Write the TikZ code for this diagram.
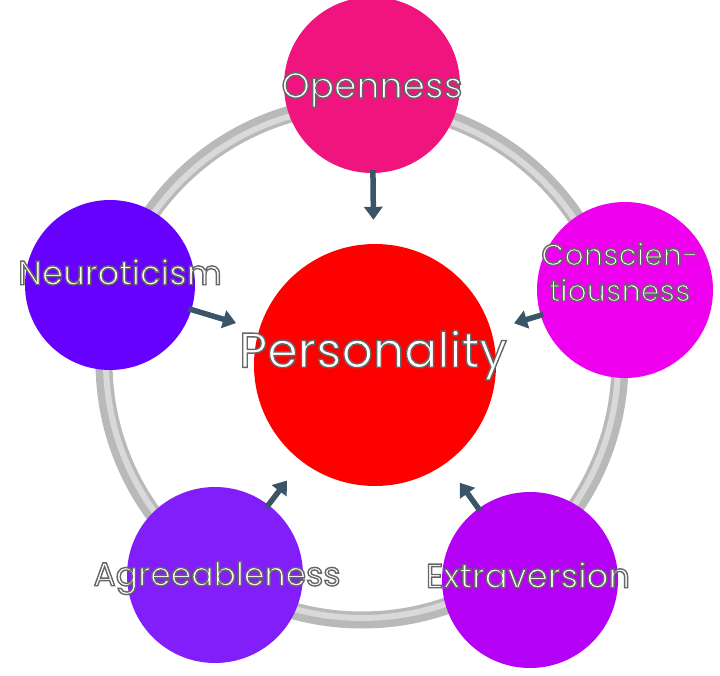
\documentclass[tikz,border=0pt]{standalone}
\usepackage{fontspec}
\setmainfont{Poppins}
\usetikzlibrary{arrows.meta}
\definecolor{arr}{HTML}{3A5468}
\newcommand\ol[1]{\special{pdf:code 2 Tr 0.4 G 1.4 w}#1\special{pdf:code 0 Tr}}
\begin{document}
\begin{tikzpicture}[x=1pt,y=-1pt,
  blob/.style={circle,minimum size=176pt,inner sep=0},
  lab/.style={text=white,align=center,inner sep=0},
  conn/.style={draw=arr,line width=5.5pt,-{Triangle[length=13pt,width=18pt]},shorten <=-3pt,shorten >=24pt}]
\useasboundingbox (0,0) rectangle (720,676);
\draw[gray!55,line width=17pt] (362,362) circle[radius=258];
\draw[gray!30,line width=6pt] (362,362) circle[radius=256];
\node[blob,fill={rgb,255:red,240;green,20;blue,126}] (o) at (372,85) {};
\node[blob,fill={rgb,255:red,102;green,0;blue,255},minimum size=170pt] (n) at (110,285) {};
\node[blob,fill={rgb,255:red,238;green,0;blue,238}] (k) at (625,290) {};
\node[blob,fill={rgb,255:red,130;green,30;blue,250}] (a) at (215,575) {};
\node[blob,fill={rgb,255:red,180;green,0;blue,245}] (e) at (530,580) {};
\node[circle,fill=red,minimum size=242pt,inner sep=0] (c) at (375,365) {};
\foreach \s in {o,n,k,a,e}{\draw[conn] (\s) -- (c);}
\node[lab,font=\fontsize{36}{36}\selectfont] (to) at (372,90) {\ol{Openness}};
\node[lab,font=\fontsize{34}{34}\selectfont] (tn) at (120,272) {\ol{Neuroticism}};
\node[lab,font=\fontsize{30}{36}\selectfont] (tk) at (620,272) {\ol{Conscien-}\\\ol{tiousness}};
\node[lab,font=\fontsize{33}{33}\selectfont] (ta) at (217,578) {\ol{Agreeableness}};
\node[lab,font=\fontsize{34}{34}\selectfont] (te) at (528,575) {\ol{Extraversion}};
\node[lab,font=\fontsize{49}{49}\selectfont] (tc) at (373,355) {\ol{Personality}};
\end{tikzpicture}
\end{document}
